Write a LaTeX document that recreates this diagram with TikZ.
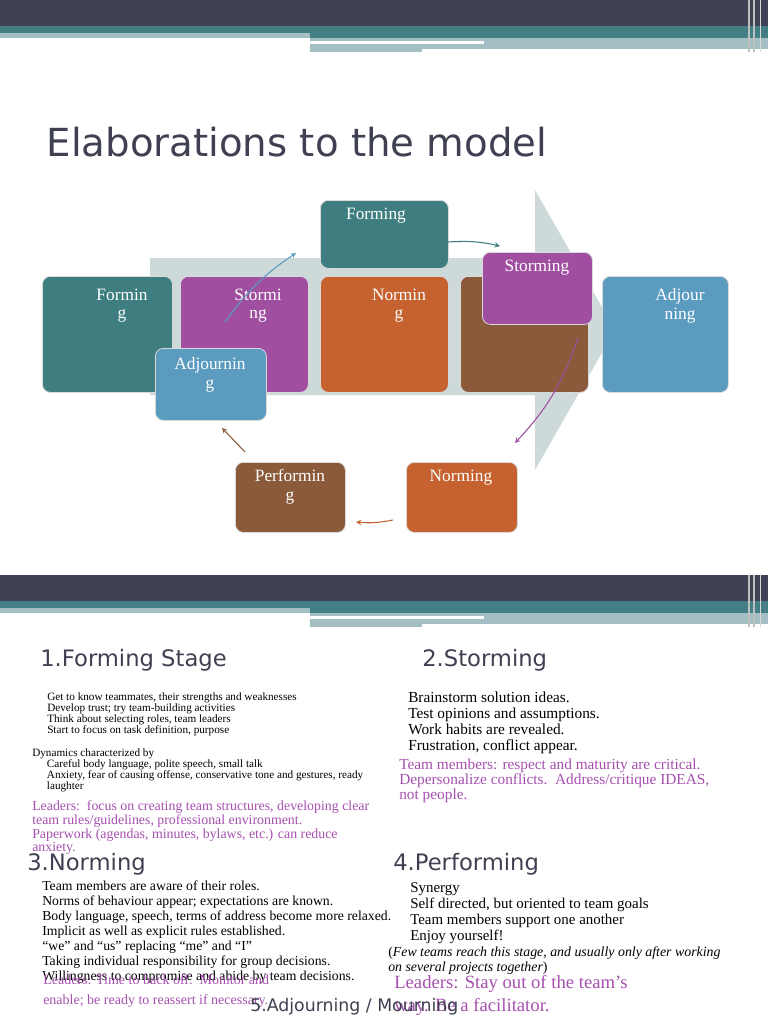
\documentclass[tikz,border=0pt]{standalone}
\usepackage{fontspec}
\setmainfont{Liberation Serif}
\newfontfamily\hd{DejaVu Sans}
\begin{document}
\begin{tikzpicture}[x=0.75pt,y=-0.75pt,
 box/.style={rounded corners=6pt,draw=white!70!gray,line width=0.6pt,text=white,font=\fontsize{13}{14}\selectfont,align=center,anchor=north west,inner sep=0pt},
 lbl/.style={anchor=north,text=white,font=\fontsize{13}{14}\selectfont,align=center},
 con/.style={->,line width=0.8pt,>=stealth},
 body/.style={anchor=north west,align=left,inner sep=0pt,font=\fontsize{8.4}{8.4}\selectfont},
 lead/.style={anchor=north west,align=left,inner sep=0pt,text=ldr},
 head/.style={anchor=west,inner sep=0pt,text=ttl,font=\hd\fontsize{17}{18}\selectfont}]
\definecolor{dk}{HTML}{404154}\definecolor{tl}{HTML}{437F84}\definecolor{lt}{HTML}{A3BFC3}
\definecolor{ttl}{HTML}{3F4152}\definecolor{ar}{HTML}{CED9D9}
\definecolor{cT}{HTML}{3F7E80}\definecolor{cP}{HTML}{A04FA0}\definecolor{cO}{HTML}{C5622F}
\definecolor{cB}{HTML}{8A5A3A}\definecolor{cL}{HTML}{5A9BBF}\definecolor{ldr}{HTML}{A650B0}
\useasboundingbox (0,0) rectangle (768,1024);
\fill[white] (0,0) rectangle (768,1024);
% banners
\foreach \y in {0,575}{
\fill[dk] (0,\y) rectangle (768,\y+26);
\fill[tl] (0,\y+26) rectangle (768,\y+38);
\fill[lt] (0,\y+33) rectangle (310,\y+38);
\fill[lt] (310,\y+38) rectangle (768,\y+52);
\fill[white] (310,\y+41) rectangle (484,\y+44);
\fill[white] (422,\y+49) rectangle (768,\y+52);
\fill[gray!50] (748,\y) rectangle (750,\y+52);
\fill[gray!50] (753,\y) rectangle (755,\y+52);
\fill[gray!30] (760,\y) rectangle (761,\y+52);}
\node[anchor=west,text=ttl,font=\hd\fontsize{29}{30}\selectfont] (title) at (42,142) {Elaborations to the model};
% big arrow
\fill[ar] (150,258) -- (535,258) -- (535,190) -- (615,330) -- (535,470) -- (535,395) -- (150,395) -- cycle;
\node[box,fill=cT,minimum width=130*0.75pt,minimum height=116*0.75pt] (b1) at (42,276) {};
\node[box,fill=cP,minimum width=128*0.75pt,minimum height=116*0.75pt] (b2) at (180,276) {};
\node[box,fill=cO,minimum width=128*0.75pt,minimum height=116*0.75pt] (b3) at (320,276) {};
\node[box,fill=cB,minimum width=128*0.75pt,minimum height=116*0.75pt] (b4) at (460,276) {};
\node[box,fill=cL,minimum width=126*0.75pt,minimum height=116*0.75pt] (b5) at (602,276) {};
\node[lbl] at (122,284) {Formin\\g};
\node[lbl] at (258,284) {Stormi\\ng};
\node[lbl] at (399,284) {Normin\\g};
\node[lbl] at (680,284) {Adjour\\ning};
\node[box,fill=cT,minimum width=128*0.75pt,minimum height=68*0.75pt] (f) at (320,200) {};
\node[lbl] at (376,203) {Forming};
\node[box,fill=cP,minimum width=110*0.75pt,minimum height=72*0.75pt] (s) at (482,252) {};
\node[lbl] at (537,255) {Storming};
\node[box,fill=cL,minimum width=111*0.75pt,minimum height=72*0.75pt] (a) at (155,348) {};
\node[lbl] at (210,353) {Adjournin\\g};
\node[box,fill=cB,minimum width=110*0.75pt,minimum height=70*0.75pt] (p) at (235,462) {};
\node[lbl] at (290,465) {Performin\\g};
\node[box,fill=cO,minimum width=111*0.75pt,minimum height=70*0.75pt] (n) at (406,462) {};
\node[lbl] at (461,465) {Norming};
\coordinate (c1) at (225,322);\coordinate (c2) at (296,253);
\draw[con,cL] (c1) to[bend left=10] (c2);
\coordinate (c3) at (448,242);\coordinate (c4) at (500,246);
\draw[con,cT] (c3) to[bend left=8] (c4);
\coordinate (c5) at (578,338);\coordinate (c6) at (515,443);
\draw[con,cP] (c5) to[bend left=12] (c6);
\coordinate (c7) at (393,520);\coordinate (c8) at (356,522);
\draw[con,cO] (c7) to[bend left=8] (c8);
\coordinate (c9) at (245,452);\coordinate (c10) at (222,428);
\draw[con,cB] (c9) -- (c10);
% slide 2
\node[head] (h1) at (40,660) {1.Forming Stage};
\node[head] (h2) at (422,660) {2.Storming};
\node[head] (h3) at (27,864) {3.Norming};
\node[head] (h4) at (393,864) {4.Performing};
\node[body] (t1) at (47,692) {Get to know teammates, their strengths and weaknesses\\Develop trust; try team-building activities\\Think about selecting roles, team leaders\\Start to focus on task definition, purpose};
\node[body] (t2) at (32,748) {Dynamics characterized by\\\hspace*{11pt}Careful body language, polite speech, small talk\\\hspace*{11pt}Anxiety, fear of causing offense, conservative tone and gestures, ready\\\hspace*{11pt}laughter};
\node[lead,font=\fontsize{10.4}{9}\selectfont] (l1) at (32,800) {Leaders:\ \ focus on creating team structures, developing clear\\team rules/guidelines, professional environment.\\Paperwork (agendas, minutes, bylaws, etc.) can reduce\\anxiety.};
\node[body,font=\fontsize{11.5}{12}\selectfont] (t3) at (408,692) {Brainstorm solution ideas.\\Test opinions and assumptions.\\Work habits are revealed.\\Frustration, conflict appear.};
\node[lead,font=\fontsize{11.5}{11.2}\selectfont] (l2) at (399,759) {Team members: respect and maturity are critical.\\Depersonalize conflicts.\ \ Address/critique IDEAS,\\not people.};
\node[body,font=\fontsize{10.3}{11.2}\selectfont] (t4) at (42,881) {Team members are aware of their roles.\\Norms of behaviour appear; expectations are known.\\Body language, speech, terms of address become more relaxed.\\Implicit as well as explicit rules established.\\``we'' and ``us'' replacing ``me'' and ``I''\\Taking individual responsibility for group decisions.\\Willingness to compromise and abide by team decisions.};
\node[lead,font=\fontsize{10.5}{15.5}\selectfont] (l3) at (43,974) {Leaders: Time to back off.\ \ Monitor and\\enable; be ready to reassert if necessary.};
\node[body,font=\fontsize{11.2}{12}\selectfont] (t5) at (410,882) {Synergy\\Self directed, but oriented to team goals\\Team members support one another\\Enjoy yourself!};
\node[body,font=\fontsize{10.4}{11.6}\selectfont] (t6) at (388,946) {(\textit{Few teams reach this stage, and usually only after working}\\\textit{on several projects together})};
\node[lead,font=\fontsize{14}{17}\selectfont] (l4) at (394,975) {Leaders: Stay out of the team's\\way.  Be a facilitator.};
\node[anchor=west,inner sep=0pt,text=ttl,font=\hd\fontsize{13}{14}\selectfont] (h5) at (250,1007) {5.Adjourning / Mourning};
\end{tikzpicture}
\end{document}
